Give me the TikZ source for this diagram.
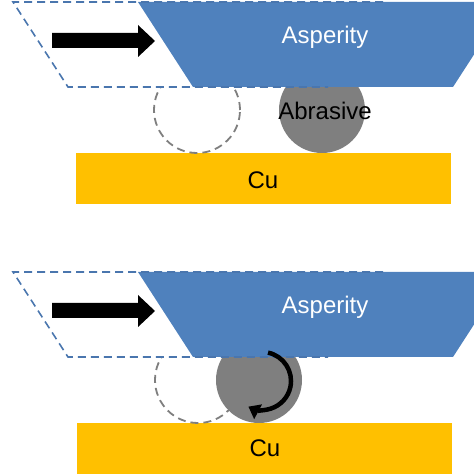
\documentclass[tikz,border=0pt]{standalone}
\usepackage{fontspec}
\setmainfont{Liberation Sans}
\usetikzlibrary{arrows.meta}
\definecolor{asperityblue}{HTML}{4F81BD}
\definecolor{ghostblue}{HTML}{4A76AE}
\definecolor{cugold}{HTML}{FFC000}
\definecolor{abrasivegray}{HTML}{7F7F7F}
\tikzset{
  label font/.style={font=\fontsize{24}{28}\selectfont},
  ghost line/.style={ghostblue, line width=1.6pt, dash pattern=on 8pt off 5pt},
  ghost ball/.style={abrasivegray, line width=1.8pt, dash pattern=on 8pt off 5pt},
}
\begin{document}
\begin{tikzpicture}[x=1pt, y=1pt]
\useasboundingbox (0,0) rectangle (474,474);
\clip (0,0) rectangle (474,474);

\fill[cugold] (76,321) rectangle (451,270);
\begin{scope}
\clip (0,387) rectangle (474,300);
\draw[ghost ball] (197,364) circle (43);
\end{scope}
\fill[abrasivegray] (322,364) circle (43);
\fill[asperityblue] (138,472) -- (508,472) -- (453,387) -- (193,387) -- cycle;
\draw[ghost line] (383,472) -- (13,472) -- (68,387) -- (328,387);
\fill[black] (52,441) -- (138,441) -- (138,449) -- (155,433) -- (138,417) -- (138,426) -- (52,426) -- cycle;
\node[label font, white] (asperityA) at (325,437) {Asperity};
\node[label font, black] (abrasiveA) at (325,363) {Abrasive};
\node[label font, black] (cuA) at (263,294) {Cu};

\fill[cugold] (77,51) rectangle (452,-2);
\begin{scope}
\clip (0,117) rectangle (474,30);
\draw[ghost ball] (198,94) circle (43);
\end{scope}
\fill[abrasivegray] (259,94) circle (43);
\fill[asperityblue] (138,202) -- (508,202) -- (453,117) -- (193,117) -- cycle;
\draw[ghost line] (383,202) -- (13,202) -- (68,117) -- (328,117);
\fill[black] (52,171) -- (138,171) -- (138,179) -- (155,163) -- (138,147) -- (138,156) -- (52,156) -- cycle;
\draw[black, line width=4.5pt, -{Triangle[length=11pt, width=16pt]}] (262,93) ++(78:29) arc[start angle=78, end angle=-118, radius=29];
\node[label font, white] (asperityB) at (325,167) {Asperity};
\node[label font, black] (cuB) at (265,26) {Cu};
\end{tikzpicture}
\end{document}
